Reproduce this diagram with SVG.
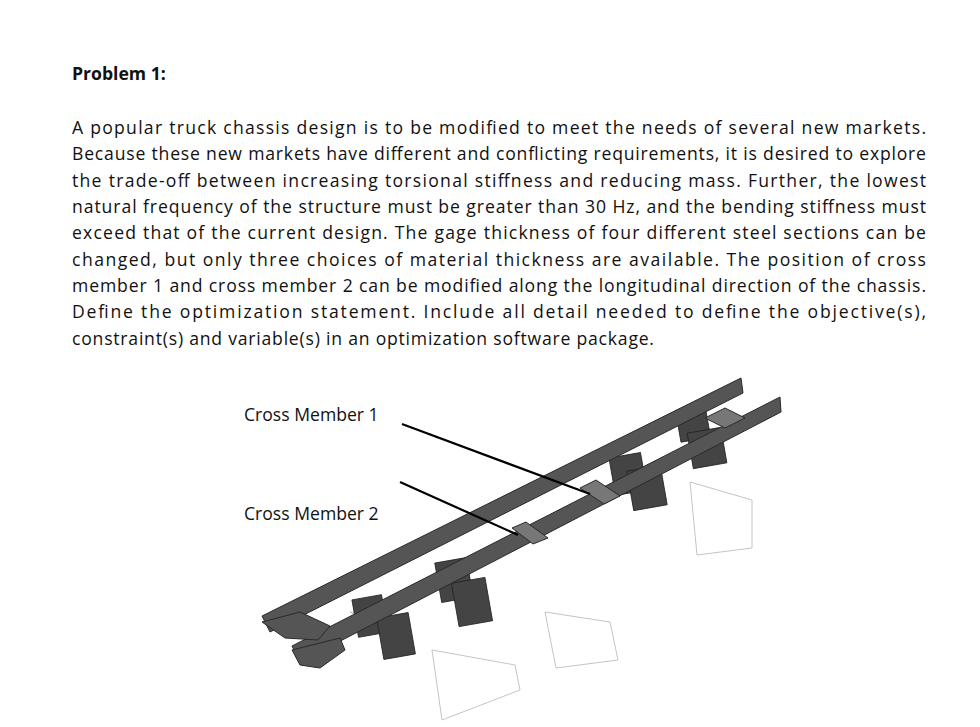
<svg xmlns="http://www.w3.org/2000/svg" width="980" height="727" viewBox="0 0 980 727">
<style>
.t{font-family:"Open Sans","Liberation Sans",sans-serif;font-size:17.6px;fill:#111}
.b{font-weight:bold}
.rail{fill:#555;stroke:#2a2a2a;stroke-width:1}
.top{fill:#777}
.blk{fill:#444;stroke:#222;stroke-width:0.8}
.wire{fill:none;stroke:#c4c4c4;stroke-width:1}
.lead{stroke:#000;stroke-width:2.2}
</style>
<rect width="980" height="727" fill="#fff"/>
<g id="text">
<text class="t b" x="72" y="80">Problem 1:</text>
<text class="t" x="72" y="134" textLength="854" lengthAdjust="spacing">A popular truck chassis design is to be modified to meet the needs of several new markets.</text>
<text class="t" x="72" y="160" textLength="854" lengthAdjust="spacing">Because these new markets have different and conflicting requirements, it is desired to explore</text>
<text class="t" x="72" y="187" textLength="854" lengthAdjust="spacing">the trade-off between increasing torsional stiffness and reducing mass. Further, the lowest</text>
<text class="t" x="72" y="213" textLength="854" lengthAdjust="spacing">natural frequency of the structure must be greater than 30 Hz, and the bending stiffness must</text>
<text class="t" x="72" y="239" textLength="854" lengthAdjust="spacing">exceed that of the current design. The gage thickness of four different steel sections can be</text>
<text class="t" x="72" y="266" textLength="854" lengthAdjust="spacing">changed, but only three choices of material thickness are available. The position of cross</text>
<text class="t" x="72" y="292" textLength="854" lengthAdjust="spacing">member 1 and cross member 2 can be modified along the longitudinal direction of the chassis.</text>
<text class="t" x="72" y="318" textLength="854" lengthAdjust="spacing">Define the optimization statement. Include all detail needed to define the objective(s),</text>
<text class="t" x="72" y="345" textLength="582" lengthAdjust="spacing">constraint(s) and variable(s) in an optimization software package.</text>
</g>
<g id="chassis">
<polygon class="wire" points="690,482 752,500 752,548 697,555"/>
<polygon class="wire" points="432,650 515,665 520,690 442,720"/>
<polygon class="wire" points="545,612 610,622 618,660 556,668"/>
<polygon class="wire" points="350,612 410,622 405,645"/>
<rect class="blk" x="678" y="408" width="30" height="32" transform="rotate(-10 692 424)"/>
<rect class="blk" x="690" y="430" width="34" height="36" transform="rotate(-10 707 448)"/>
<rect class="blk" x="612" y="455" width="32" height="38" transform="rotate(-10 628 474)"/>
<rect class="blk" x="630" y="468" width="34" height="40" transform="rotate(-10 647 488)"/>
<rect class="blk" x="438" y="560" width="32" height="40" transform="rotate(-10 454 580)"/>
<rect class="blk" x="455" y="580" width="34" height="44" transform="rotate(-10 472 602)"/>
<rect class="blk" x="355" y="597" width="30" height="38" transform="rotate(-10 370 616)"/>
<rect class="blk" x="380" y="615" width="32" height="42" transform="rotate(-10 396 636)"/>
<polygon class="rail" points="262,616 741,378 743,393 270,632"/>
<polygon class="rail" points="292,646 780,397 781,412 300,662"/>
<polygon class="rail" points="262,622 300,612 330,626 318,640 285,638"/>
<polygon class="rail" points="292,650 340,638 345,650 320,668 300,665"/>
<polygon class="rail top" points="580,488 596,480 620,496 604,504"/>
<polygon class="rail top" points="512,528 526,522 548,538 533,544"/>
<polygon class="rail top" points="705,418 725,408 745,418 725,428"/>
</g>
<g id="labels">
<text class="t" x="244" y="421">Cross Member 1</text>
<text class="t" x="244" y="520">Cross Member 2</text>
</g>
<g id="connectors">
<line class="lead" x1="402" y1="424" x2="590" y2="494"/>
<line class="lead" x1="400" y1="482" x2="518" y2="535"/>
</g>
</svg>
